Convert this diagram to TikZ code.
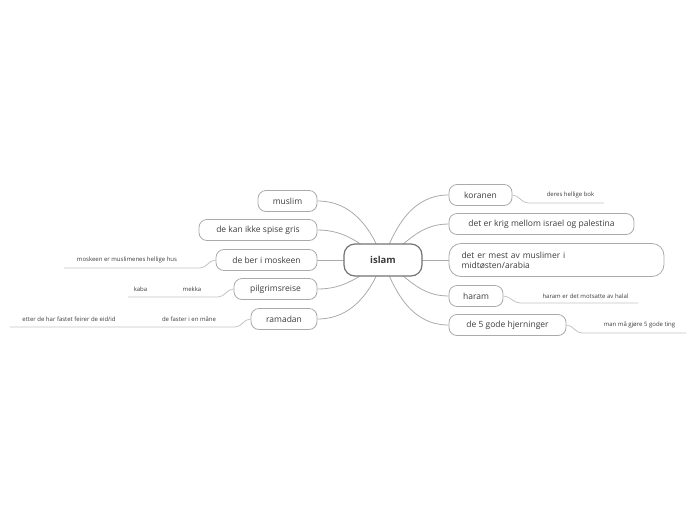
\documentclass[tikz,border=0pt]{standalone}
\usepackage{fontspec}
\setmainfont{Open Sans}
\usetikzlibrary{backgrounds}
\definecolor{ln}{RGB}{170,170,170}
\definecolor{tx}{RGB}{60,60,60}
\tikzset{
 topic/.style={draw=ln,fill=white,rounded corners=8pt,line width=0.8pt,minimum height=21pt,font=\fontsize{8.5}{10}\selectfont,text=tx,inner xsep=9pt},
 root/.style={draw=gray!90!black,fill=white,rounded corners=11pt,line width=1.2pt,minimum width=78pt,minimum height=32pt,font=\bfseries\fontsize{9.5}{11}\selectfont,text=tx},
 sub/.style={font=\fontsize{6}{7}\selectfont,text=tx,inner sep=0pt},
 conn/.style={draw=ln,line width=0.8pt},
 subl/.style={draw=ln!70,line width=0.8pt}
}
\begin{document}
\begin{tikzpicture}[x=1pt,y=-1pt]
\useasboundingbox (0,0) rectangle (696,520);
\node[root] (islam) at (383,260) {islam};
\node[topic,minimum width=63pt] (kor) at (480.5,195) {koranen};
\node[topic,minimum width=185pt] (krig) at (541.5,224) {det er krig mellom israel og palestina};
\node[topic,minimum width=215pt,minimum height=33pt,align=left,text width=190pt,rounded corners=12pt] (mest) at (556.5,260) {\hspace*{0pt}det er mest av muslimer i\\midtøsten/arabia};
\node[topic,minimum width=54pt] (haram) at (476,296) {haram};
\node[topic,minimum width=117pt] (gode) at (507.5,325) {de 5 gode hjerninger};
\node[topic,minimum width=59pt] (muslim) at (287.5,201) {muslim};
\node[topic,minimum width=118pt] (gris) at (258,230) {de kan ikke spise gris};
\node[topic,minimum width=101pt] (ber) at (266.5,260) {de ber i moskeen};
\node[topic,minimum width=83pt] (pil) at (275.5,289) {pilgrimsreise};
\node[topic,minimum width=66pt] (ram) at (284,319) {ramadan};
\node[sub] (s1) at (570.5,195) {deres hellige bok};
\node[sub] (s2) at (585.5,296) {haram er det motsatte av halal};
\node[sub] (s3) at (639.5,325) {man må gjøre 5 gode ting};
\node[sub] (s4) at (127,260) {moskeen er muslimenes hellige hus};
\node[sub] (s5) at (192,289) {mekka};
\node[sub] (s6) at (140.5,289) {kaba};
\node[sub] (s7) at (189,319) {de faster i en måne};
\node[sub] (s8) at (69,319) {etter de har fastet feirer de eid/id};
\coordinate (u1a) at (528,203); \coordinate (u1b) at (604,203);
\coordinate (u2a) at (520,303); \coordinate (u2b) at (638,303);
\coordinate (u3a) at (582,333); \coordinate (u3b) at (686,333);
\coordinate (u4a) at (200,268); \coordinate (u4b) at (64,268);
\coordinate (u5a) at (218,297); \coordinate (u5b) at (128,297);
\coordinate (u7a) at (235,327); \coordinate (u7b) at (130,327);
\coordinate (u8b) at (10,327);
\begin{pgfonlayer}{background}
\draw[conn] (islam.center) to[out=70,in=180] (kor.west);
\draw[conn] (islam.center) to[out=35,in=180] (krig.west);
\draw[conn] (islam.center) -- (mest.west);
\draw[conn] (islam.center) to[out=-35,in=180] (haram.west);
\draw[conn] (islam.center) to[out=-70,in=180] (gode.west);
\draw[conn] (islam.center) to[out=110,in=0] (muslim.east);
\draw[conn] (islam.center) to[out=145,in=0] (gris.east);
\draw[conn] (islam.center) -- (ber.east);
\draw[conn] (islam.center) to[out=-145,in=0] (pil.east);
\draw[conn] (islam.center) to[out=-110,in=0] (ram.east);
\draw[subl] (kor.east) to[out=0,in=180] (u1a) -- (u1b);
\draw[subl] (haram.east) to[out=0,in=180] (u2a) -- (u2b);
\draw[subl] (gode.east) to[out=0,in=180] (u3a) -- (u3b);
\draw[subl] (ber.west) to[out=180,in=0] (u4a) -- (u4b);
\draw[subl] (pil.west) to[out=180,in=0] (u5a) -- (u5b);
\draw[subl] (ram.west) to[out=180,in=0] (u7a) -- (u7b) -- (u8b);
\end{pgfonlayer}
\end{tikzpicture}
\end{document}
